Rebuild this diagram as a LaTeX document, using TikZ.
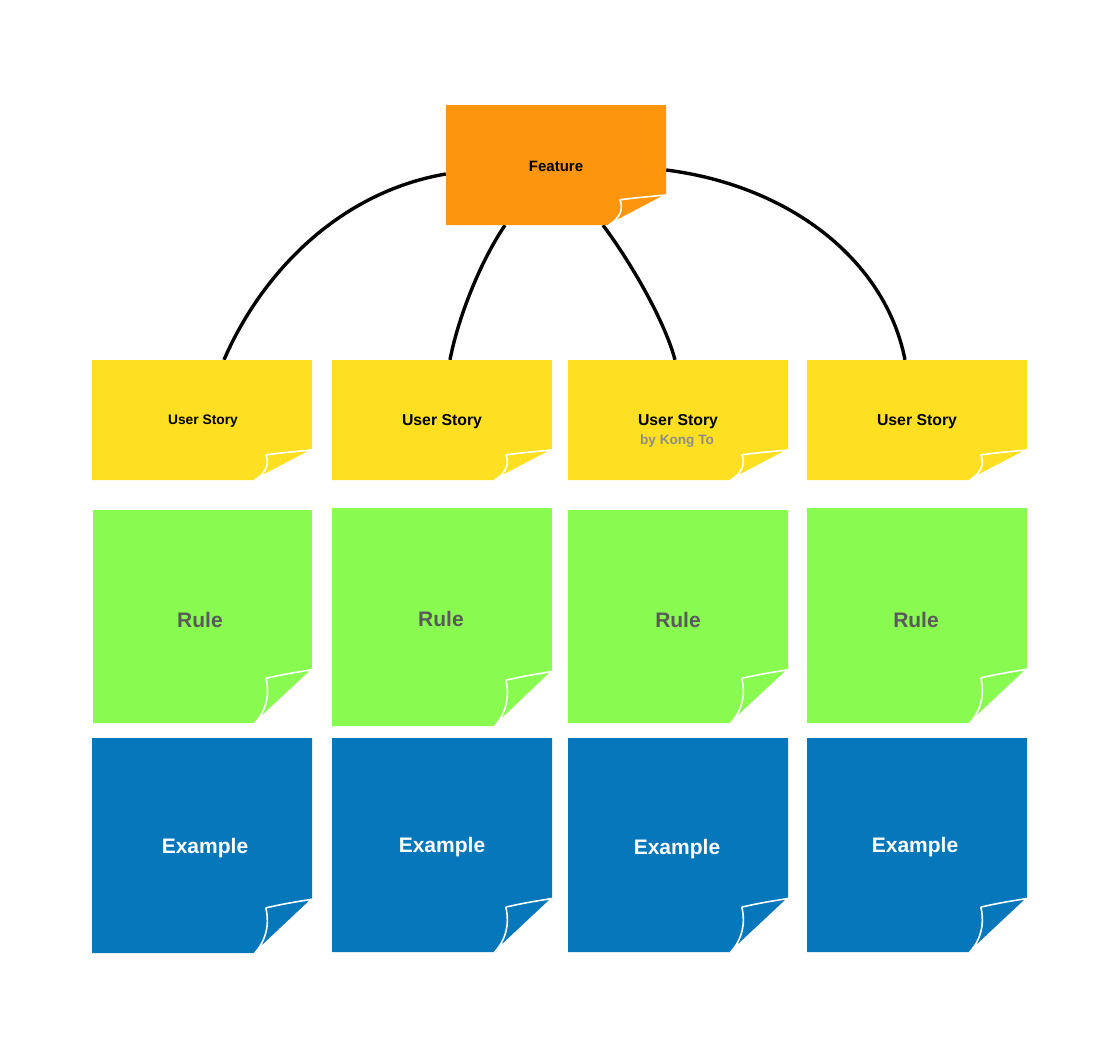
\documentclass[tikz,border=0pt]{standalone}
\usepackage{fontspec}
\setmainfont{Liberation Sans}
\usetikzlibrary{calc}
\definecolor{featc}{HTML}{FD950D}
\definecolor{usc}{HTML}{FEDF22}
\definecolor{rulec}{HTML}{89FB50}
\definecolor{exc}{HTML}{0677BA}
\definecolor{rulet}{HTML}{5A5A5A}
\definecolor{byc}{HTML}{8C8C8C}
\tikzset{
  conn/.style={line width=3.4pt, black},
  lbl/.style={inner sep=0, align=center, font=\bfseries},
}
\newcommand\sticky[6]{%
  \pgfmathsetmacro\W{#4-#2}%
  \pgfmathsetmacro\H{#5-#3}%
  \node[inner sep=0, minimum width=\W pt, minimum height=\H pt] (#1) at ({(#2+#4)/2},{(#3+#5)/2}) {};
  \fill[#6] (#2,#3) -- (#4,#3) -- (#4,{#5-0.25*\H}) -- ({#4-0.26*\W},#5) -- (#2,#5) -- cycle;
  \filldraw[fill=#6, draw=white, line width=1.6pt, line join=round]
    ({#4-0.21*\W},{#5-0.21*\H}) .. controls ({#4-0.12*\W},{#5-0.23*\H}) .. (#4,{#5-0.25*\H})
    -- ({#4-0.26*\W},#5) .. controls ({#4-0.19*\W},{#5-0.08*\H}) and ({#4-0.2*\W},{#5-0.17*\H}) .. ({#4-0.21*\W},{#5-0.21*\H});
}
\begin{document}
\begin{tikzpicture}[x=1pt,y=-1pt]
\useasboundingbox (0,0) rectangle (1120,1060);
\fill[white] (0,0) rectangle (1120,1060);
% invisible reference nodes for connectors
\node[inner sep=0, minimum width=220pt, minimum height=120pt] (feat) at (556,165) {};
\node[inner sep=0, minimum width=220pt, minimum height=120pt] (us1) at (202,420) {};
\node[inner sep=0, minimum width=220pt, minimum height=120pt] (us2) at (442,420) {};
\node[inner sep=0, minimum width=220pt, minimum height=120pt] (us3) at (678,420) {};
\node[inner sep=0, minimum width=220pt, minimum height=120pt] (us4) at (917,420) {};
% connectors
\draw[conn] ($(feat.west)+(0,-9pt)$) .. controls (340,192) and (262,272) .. ($(us1.north)+(22pt,0)$);
\draw[conn] ($(feat.south)+(-51pt,0)$) .. controls (480,262) and (458,318) .. ($(us2.north)+(8pt,0)$);
\draw[conn] ($(feat.south)+(47pt,0)$) .. controls (632,264) and (665,322) .. ($(us3.north)+(-3pt,0)$);
\draw[conn] ($(feat.east)+(0,-5pt)$) .. controls (792,186) and (886,262) .. ($(us4.north)+(-12pt,0)$);
% notes
\sticky{featn}{446}{105}{666}{225}{featc}
\sticky{us1n}{92}{360}{312}{480}{usc}
\sticky{us2n}{332}{360}{552}{480}{usc}
\sticky{us3n}{568}{360}{788}{480}{usc}
\sticky{us4n}{807}{360}{1027}{480}{usc}
\sticky{r1}{93}{510}{312}{723}{rulec}
\sticky{r2}{332}{508}{552}{726}{rulec}
\sticky{r3}{568}{510}{788}{723}{rulec}
\sticky{r4}{807}{508}{1027}{723}{rulec}
\sticky{e1}{92}{738}{312}{953}{exc}
\sticky{e2}{332}{738}{552}{952}{exc}
\sticky{e3}{568}{738}{788}{952}{exc}
\sticky{e4}{807}{738}{1027}{952}{exc}
% labels
\node[lbl, font=\bfseries\fontsize{15}{18}\selectfont] (featt) at (556,166) {Feature};
\node[lbl, font=\bfseries\fontsize{13.8}{16}\selectfont] (us1t) at (203,421) {User Story};
\node[lbl, font=\bfseries\fontsize{15.8}{19}\selectfont] (us2t) at (442,421.5) {User Story};
\node[lbl, font=\bfseries\fontsize{15.8}{19}\selectfont] (us3t) at (678,421.5) {User Story};
\node[lbl, font=\bfseries\fontsize{13.6}{16}\selectfont, text=byc] (by) at (677,441) {by Kong To};
\node[lbl, font=\bfseries\fontsize{15.8}{19}\selectfont] (us4t) at (917,421.5) {User Story};
\node[lbl, font=\bfseries\fontsize{21}{25}\selectfont, text=rulet] (r1t) at (200,619.5) {Rule};
\node[lbl, font=\bfseries\fontsize{21}{25}\selectfont, text=rulet] (r2t) at (441,618.5) {Rule};
\node[lbl, font=\bfseries\fontsize{21}{25}\selectfont, text=rulet] (r3t) at (678,619.5) {Rule};
\node[lbl, font=\bfseries\fontsize{21}{25}\selectfont, text=rulet] (r4t) at (916,619.5) {Rule};
\node[lbl, font=\bfseries\fontsize{21}{25}\selectfont, text=white] (e1t) at (205,848) {Example};
\node[lbl, font=\bfseries\fontsize{21}{25}\selectfont, text=white] (e2t) at (442,847) {Example};
\node[lbl, font=\bfseries\fontsize{21}{25}\selectfont, text=white] (e3t) at (677,849) {Example};
\node[lbl, font=\bfseries\fontsize{21}{25}\selectfont, text=white] (e4t) at (915,847) {Example};
\end{tikzpicture}
\end{document}
